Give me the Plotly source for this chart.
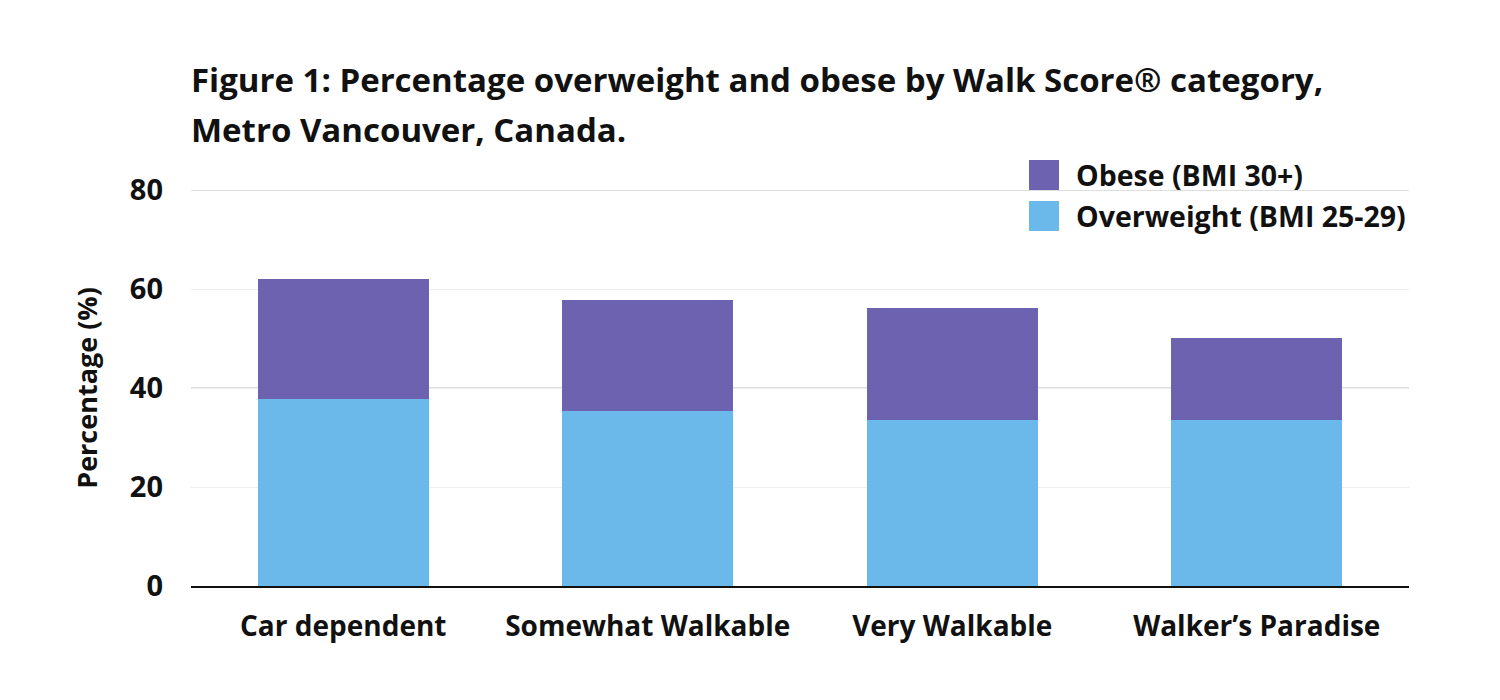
import plotly.graph_objects as go

categories = ["Car dependent", "Somewhat Walkable", "Very Walkable", "Walker’s Paradise"]
overweight = [37.8, 35.4, 33.6, 33.6]
obese = [24.2, 22.4, 22.5, 16.6]
series_names = ["Overweight (BMI 25-29)", "Obese (BMI 30+)"]
y_ticks = [0, 20, 40, 60, 80]
title_lines = ["Figure 1: Percentage overweight and obese by Walk Score® category,",
               "Metro Vancouver, Canada."]
y_title = "Percentage (%)"

C_OVER = "#6BB8EA"
C_OBESE = "#6C62B0"
FONT = "Open Sans"

fig = go.Figure()
fig.add_trace(go.Bar(x=categories, y=overweight, name=series_names[0],
                     marker=dict(color=C_OVER, line=dict(width=0)), showlegend=False))
fig.add_trace(go.Bar(x=categories, y=obese, name=series_names[1],
                     marker=dict(color=C_OBESE, line=dict(width=0)), showlegend=False))

L, R, T, B = 191, 91, 190, 114
W, H = 1500, 700
pw, ph = W - L - R, H - T - B
def px_x(x): return (x - L) / pw
def px_y(y): return (H - B - y) / ph

annotations = []
for i, line in enumerate(title_lines):
    annotations.append(dict(text=line, xref="paper", yref="paper", x=px_x(189), y=px_y(79 + 50 * i),
                            xanchor="left", yanchor="middle", showarrow=False,
                            font=dict(family=FONT, size=33, color="#111", weight="bold")))

shapes = []
# darker gridlines at 40 and 80
for g in [40, 80]:
    shapes.append(dict(type="line", xref="paper", yref="y", x0=0, x1=1, y0=g, y1=g,
                       line=dict(color="#BDBDBD", width=1.2), layer="below"))

# manual legend (obese on top)
legend_items = [(series_names[1], C_OBESE, 175), (series_names[0], C_OVER, 216)]
for name, col, cy in legend_items:
    shapes.append(dict(type="rect", xref="paper", yref="paper",
                       x0=px_x(1029), x1=px_x(1059), y0=px_y(cy + 15), y1=px_y(cy - 15),
                       fillcolor=col, line=dict(width=0)))
    annotations.append(dict(text=name, xref="paper", yref="paper", x=px_x(1074), y=px_y(cy),
                            xanchor="left", yanchor="middle", showarrow=False,
                            font=dict(family=FONT, size=28.5, color="#111", weight="bold")))

fig.update_layout(
    width=W, height=H,
    barmode="stack", bargap=0.44,
    plot_bgcolor="white", paper_bgcolor="white",
    margin=dict(l=L, r=R, t=T, b=B, autoexpand=False),
    font=dict(family=FONT, color="#111"),
    annotations=annotations, shapes=shapes,
    showlegend=False,
)
fig.update_xaxes(showline=True, linecolor="#111", linewidth=2, showgrid=False,
                 tickfont=dict(family=FONT, size=28, color="#111", weight="bold"),
                 ticks="", ticklabelstandoff=14)
fig.update_yaxes(range=[0, 80], tickvals=y_ticks, showgrid=True, gridcolor="#EEEEEE", gridwidth=1,
                 zeroline=False, showline=False, ticks="",
                 tickfont=dict(family=FONT, size=29, color="#111", weight="bold"),
                 ticklabelstandoff=27,
                 title=dict(text=y_title, standoff=24,
                            font=dict(family=FONT, size=27, color="#111", weight="bold")))

fig.write_html("out.html")
